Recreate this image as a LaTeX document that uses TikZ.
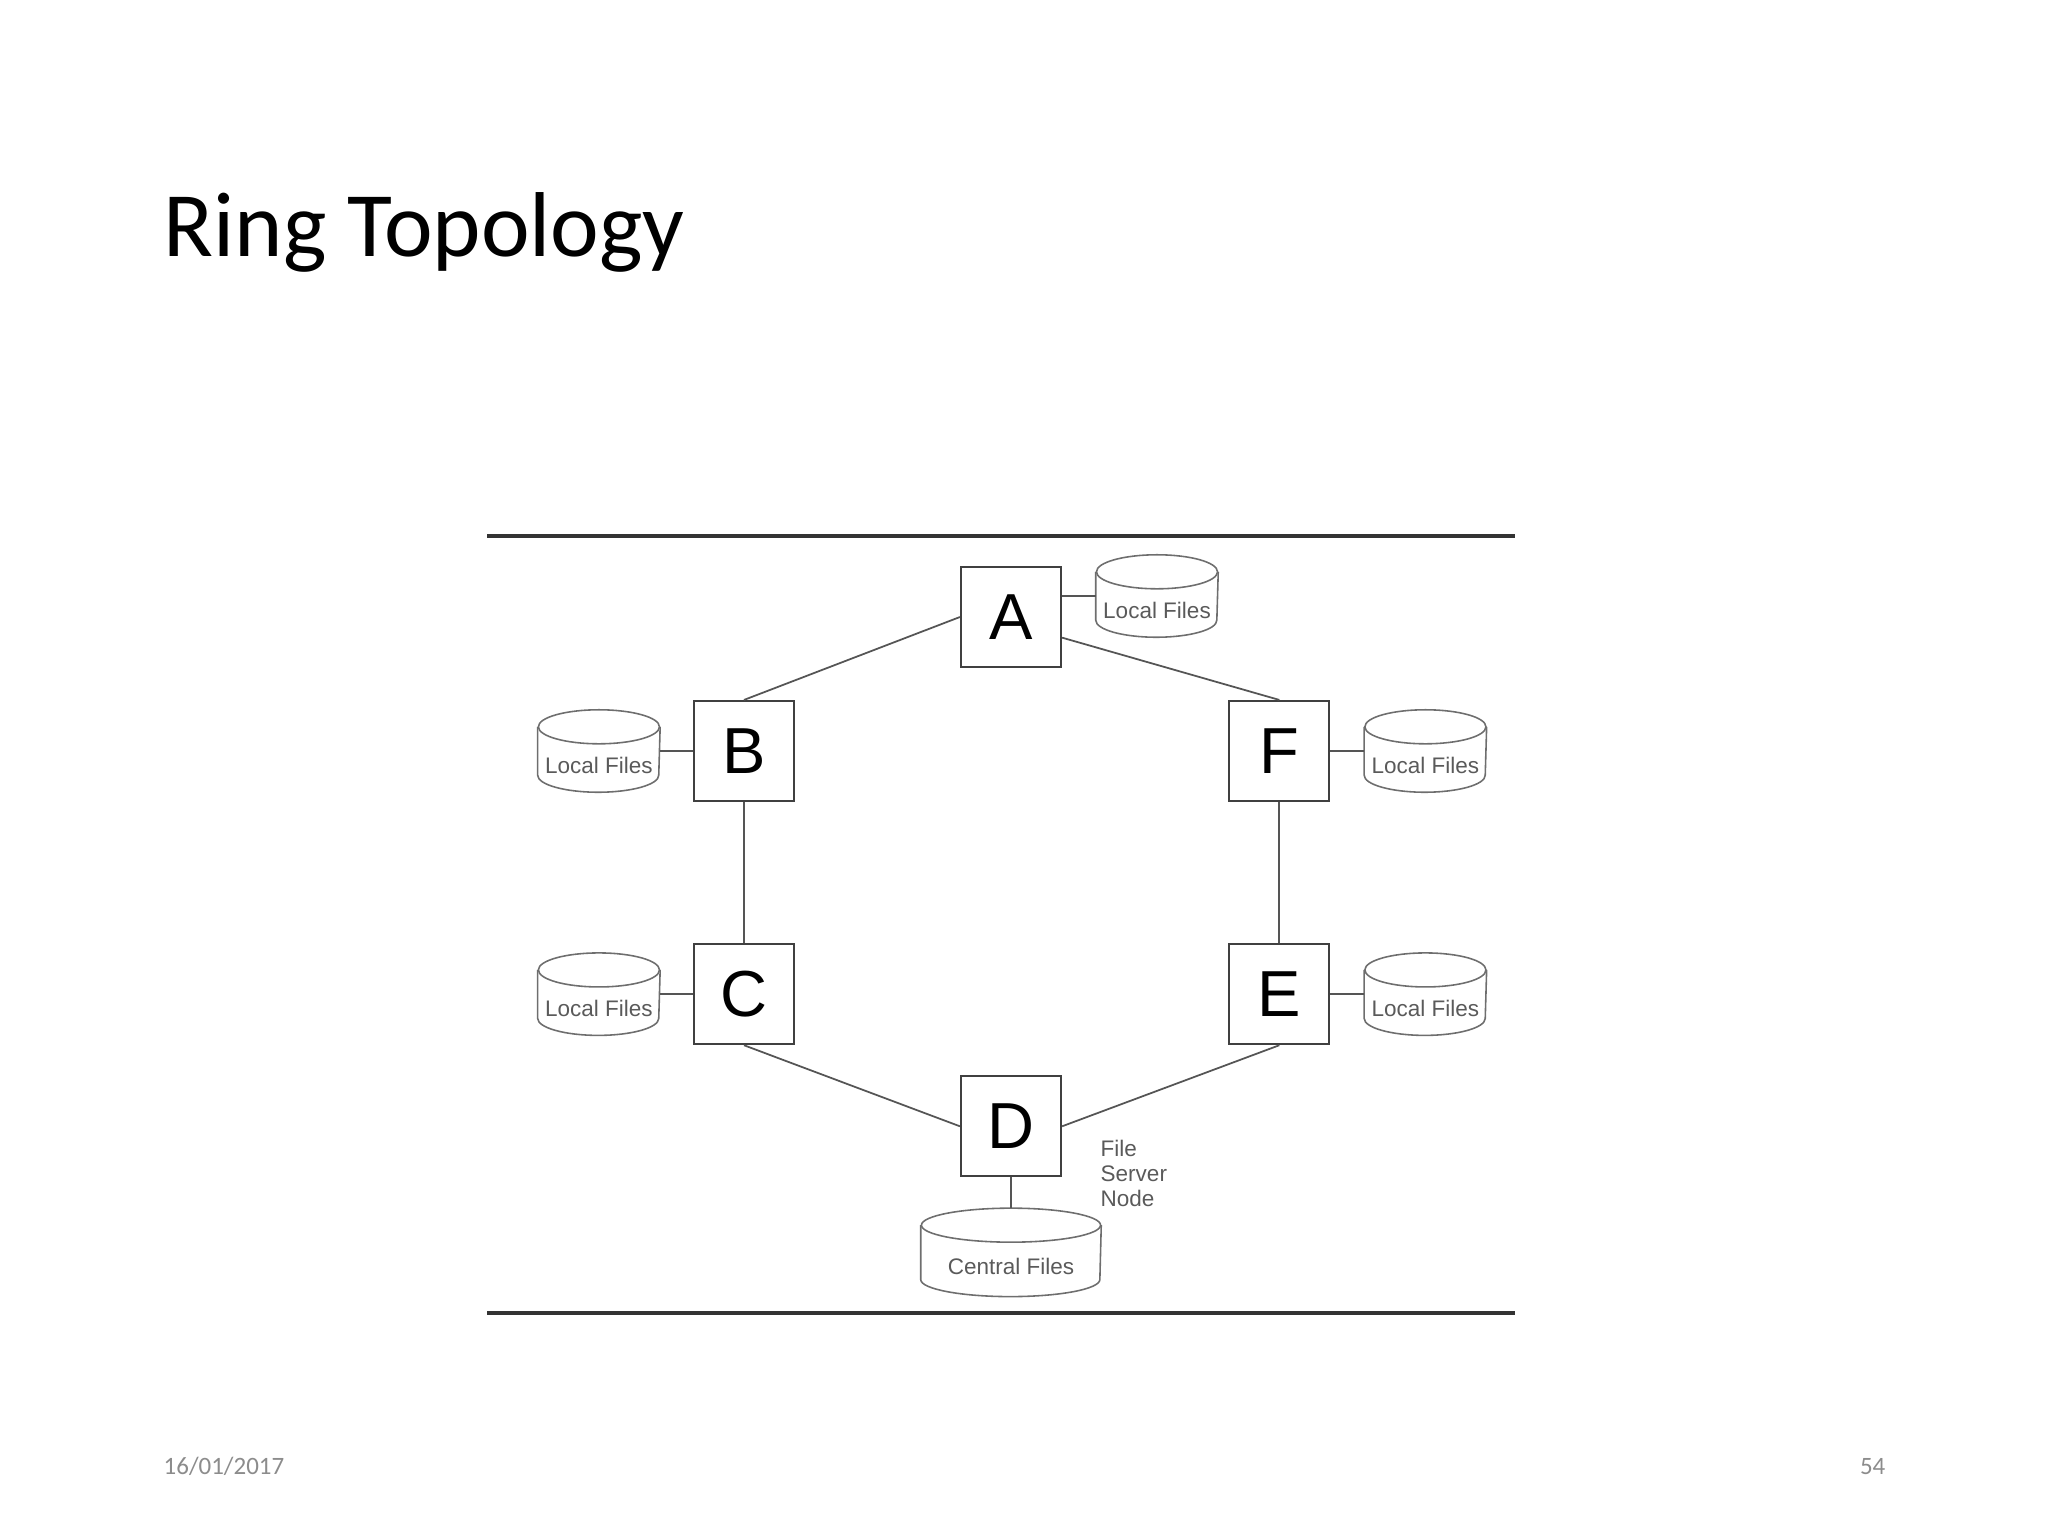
\documentclass[tikz,border=0pt]{standalone}
\usepackage{fontspec}
\setmainfont{Carlito}
\newfontfamily\helv{Liberation Sans}
\definecolor{boxgray}{HTML}{404040}
\definecolor{linegray}{HTML}{555555}
\definecolor{drumgray}{HTML}{6E6E6E}
\definecolor{labelgray}{HTML}{5A5A5A}
\definecolor{footgray}{HTML}{8C8C8C}
\tikzstyle{box} = [draw=boxgray, line width=0.6pt, rectangle, 
    minimum size=1cm, inner sep=0pt, font=\helv\fontsize{18.5}{20}\selectfont]
\tikzstyle{ring} = [draw=linegray, line width=0.5pt]
\tikzstyle{rule} = [draw=black!80, line width=1.1pt]
\tikzstyle{note} = [align=left, inner sep=0pt, text=labelgray,
    font=\helv\fontsize{6.4}{7.1}\selectfont]
\tikzstyle{title} = [inner sep=0pt, font=\fontsize{26.2}{30}\selectfont]
\tikzstyle{foot} = [inner sep=0pt, text=footgray, font=\fontsize{7.1}{9}\selectfont]
\tikzset{drum/.style={minimum width=#1, minimum height=0.81cm, inner sep=0pt,
    text height=0.45cm, text depth=0pt, text=labelgray,
    font=\helv\fontsize{6.4}{7}\selectfont,
    append after command={\pgfextra{\edef\drumnode{\tikzlastnode}
      \begin{pgfinterruptpath}
        \draw[draw=drumgray, line width=0.45pt] ([yshift=-0.17cm]\drumnode.north west)
          -- ([yshift=0.17cm]\drumnode.south west)
          arc[start angle=180, end angle=360, x radius=#1/2, y radius=0.17cm]
          -- ([yshift=-0.17cm]\drumnode.north east);
        \draw[draw=drumgray, line width=0.45pt] ([yshift=-0.17cm]\drumnode.north)
          ellipse[x radius=#1/2, y radius=0.17cm];
      \end{pgfinterruptpath}}}}}

\begin{document}
\begin{tikzpicture}[x=0.01cm, y=-0.01cm]
    \useasboundingbox (0,0) rectangle (2048,1536);
    \node [title, anchor=base west] (title) at (163,256) {Ring Topology};
    \coordinate (rtl) at (487,536);
    \coordinate (rtr) at (1515,536);
    \coordinate (rbl) at (487,1313);
    \coordinate (rbr) at (1515,1313);
    \draw [rule] (rtl) -- (rtr);
    \draw [rule] (rbl) -- (rbr);
    \node [box] (A) at (1011,617) {A};
    \node [box] (B) at (744,751) {B};
    \node [box, right of=B, node distance=5.35cm] (F) {F};
    \node [box, below of=B, node distance=2.43cm] (C) {C};
    \node [box, below of=F, node distance=2.43cm] (E) {E};
    \node [box, below of=A, node distance=5.09cm] (D) {D};
    \node [drum=1.21cm] (lfa) at (1157,596) {Local Files};
    \node [drum=1.21cm, left of=B, node distance=1.45cm] (lfb) {Local Files};
    \node [drum=1.21cm, left of=C, node distance=1.45cm] (lfc) {Local Files};
    \node [drum=1.21cm, right of=F, node distance=1.46cm] (lff) {Local Files};
    \node [drum=1.21cm, right of=E, node distance=1.46cm] (lfe) {Local Files};
    \node [drum=1.79cm, minimum height=0.87cm, below of=D, node distance=1.26cm] (cf) {Central Files};
    \node [note, anchor=west] (fsn) at (1100,1173) {File\\Server\\Node};
    \draw [ring] (A.west) -- (B.north);
    \draw [ring] (A.-22) -- (F.north);
    \draw [ring] (B.south) -- (C.north);
    \draw [ring] (C.south) -- (D.west);
    \draw [ring] (D.east) -- (E.south);
    \draw [ring] (F.south) -- (E.north);
    \draw [ring] (lfa.west) -- (lfa.west -| A.east);
    \draw [ring] (lfb.east) -- (B.west);
    \draw [ring] (lfc.east) -- (C.west);
    \draw [ring] (F.east) -- (lff.west);
    \draw [ring] (E.east) -- (lfe.west);
    \draw [ring] (D.south) -- (cf.north);
    \node [foot, anchor=base west] (date) at (163,1474) {16/01/2017};
    \node [foot, anchor=base east] (page) at (1886,1474) {54};
\end{tikzpicture}
\end{document}
